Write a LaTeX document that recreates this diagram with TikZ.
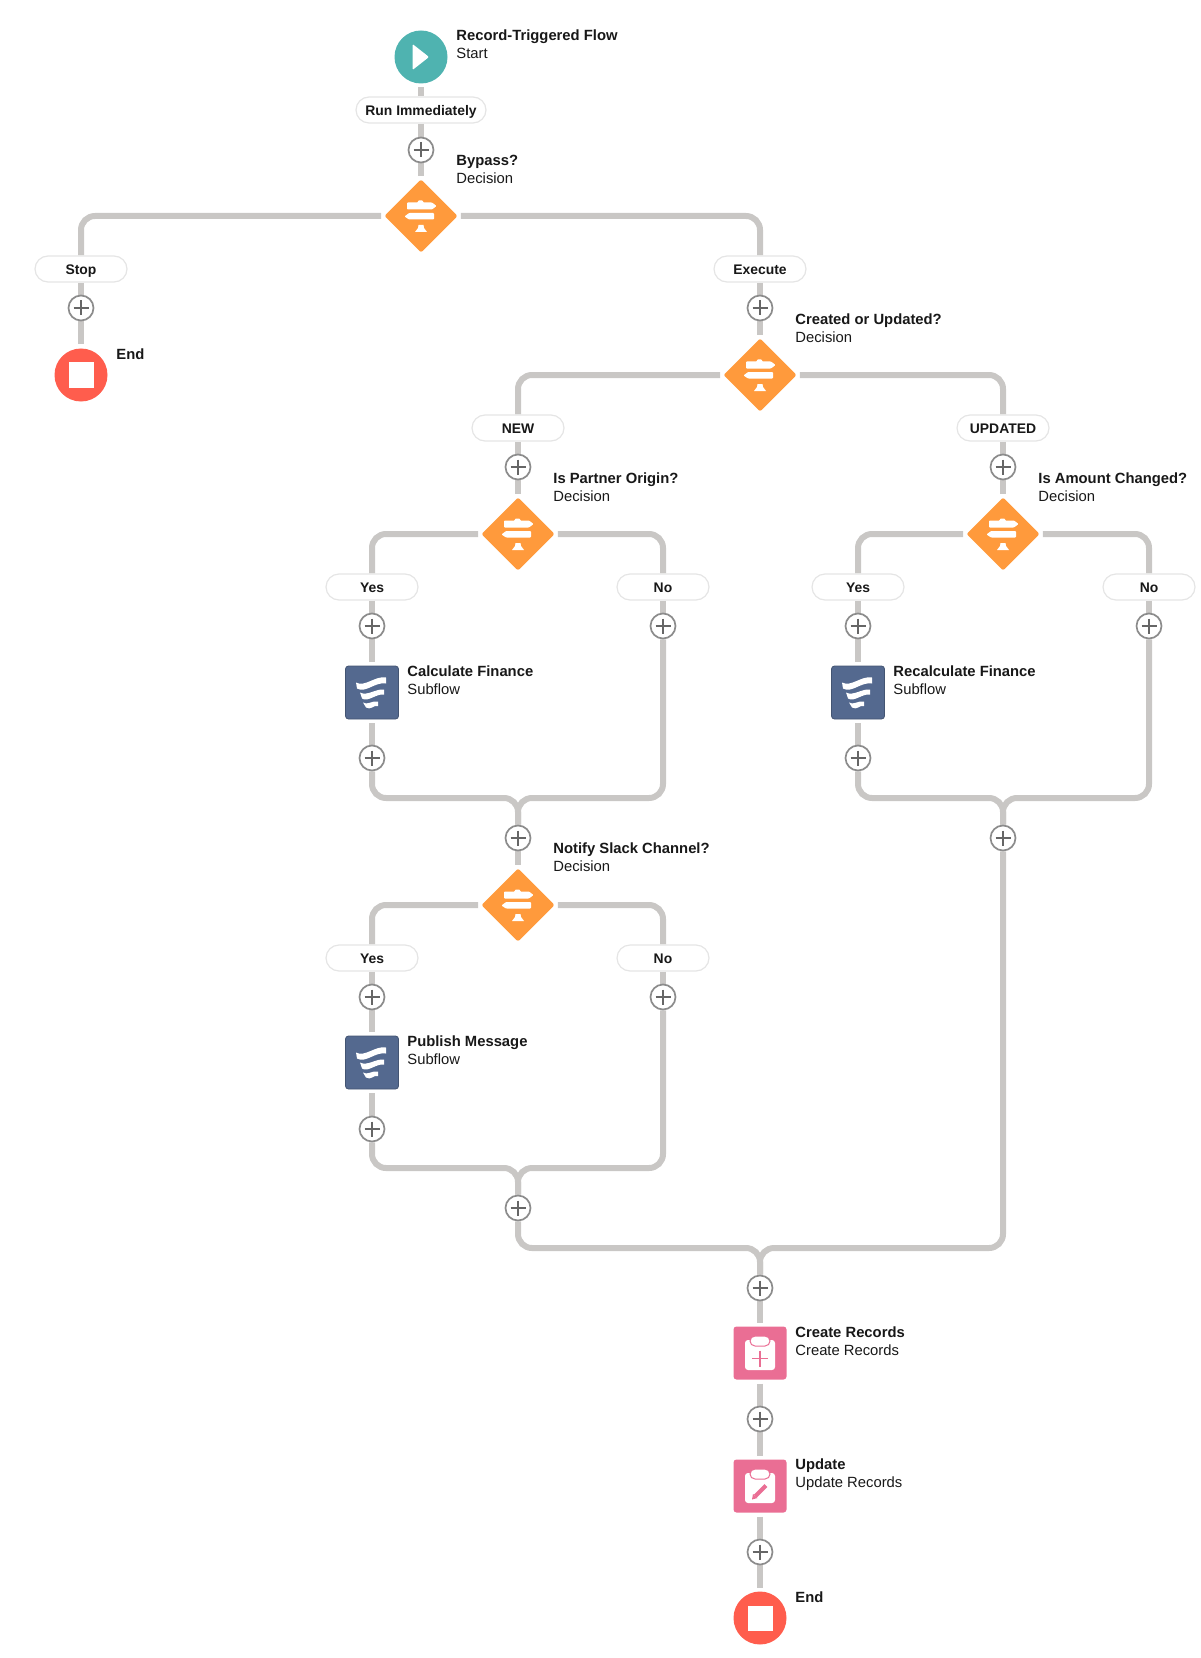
\documentclass[tikz,border=0pt]{standalone}
\usepackage{fontspec}
\setmainfont{Liberation Sans}
\usetikzlibrary{shapes.geometric}

\definecolor{flowgray}{HTML}{C9C7C5}
\definecolor{startteal}{HTML}{4FB3B0}
\definecolor{endred}{HTML}{FF5D4D}
\definecolor{deciorange}{HTML}{FF9A3C}
\definecolor{subblue}{HTML}{54698F}
\definecolor{recpink}{HTML}{EA6E94}
\definecolor{inkdark}{HTML}{181818}

\pgfdeclarelayer{lines}
\pgfsetlayers{lines,main}

\tikzset{
  flowline/.style={line width=3pt, draw=flowgray, rounded corners=7pt},
  pill/.style={draw=black!10, line width=0.6pt, fill=white, rectangle, rounded corners=6.5pt,
    minimum width=46pt, minimum height=13pt, inner sep=0pt, text=inkdark, text height=5.2pt, text depth=0pt,
    font=\fontsize{6.95}{8}\selectfont\bfseries},
  addbtn/.style={circle, draw=black!45, line width=0.85pt, fill=white, minimum size=12.5pt, inner sep=0pt,
    path picture={\draw[black!60, line width=0.6pt]
      (path picture bounding box.center) ++(-7.5,0) -- ++(15,0)
      (path picture bounding box.center) ++(0,-7.5) -- ++(0,15);}},
  roundicon/.style={circle, minimum size=26.5pt, inner sep=0pt, outer sep=2pt},
  decision/.style={diamond, fill=deciorange, minimum width=37.5pt, minimum height=37.5pt, aspect=1,
    inner sep=0pt, outer sep=1.2pt, rounded corners=1pt},
  squareicon/.style={rectangle, minimum size=26.5pt, inner sep=0pt, outer sep=2pt, rounded corners=1.5pt},
  lbl/.style={anchor=north west, inner sep=0pt, align=left, text=inkdark,
    font=\fontsize{7.4}{9}\selectfont},
  signpost/.pic={
    \fill[white, rounded corners=0.4pt] (-14,-13.5) -- (-3,-13.5) -- (-3,-15.5) -- (2,-15.5) -- (2,-13.5) -- (11,-13.5)
      -- (15.5,-10) -- (11,-6.5) -- (-14,-6.5) -- cycle;
    \fill[white, rounded corners=0.4pt] (13,-3) -- (-12,-3) -- (-16.5,0.5) -- (-12,3.5) -- (13,3.5) -- cycle;
    \fill[white] (-2.5,9) -- (2.5,9) -- (3,12) -- (6,16) -- (-6,16) -- (-3,12) -- cycle;
  },
  wavestripes/.pic={
    \fill[white] (-16,-10) .. controls (-7,-5) and (3,-17) .. (14,-15) -- (14,-9)
      .. controls (3,-11) and (-6,1) .. (-15,-4) -- cycle;
    \fill[white] (-12,0) .. controls (-5,4) and (4,-4) .. (12,-3) -- (12,2)
      .. controls (4,1) and (-4,10) .. (-10,6) -- cycle;
    \fill[white] (-9,10) .. controls (-5,13) and (0,8) .. (6,9) -- (6,13.5)
      .. controls (1,12.5) and (-1,18) .. (-6,15) -- cycle;
  },
  clipboard/.pic={
    \fill[white, rounded corners=1.5pt] (-15,-13) rectangle (15,17);
    \filldraw[white, draw=recpink, line width=0.5pt, rounded corners=2.5pt] (-10,-17) rectangle (10,-7);
  }
}

\begin{document}
\begin{tikzpicture}[x=0.5pt, y=-0.5pt]
    \useasboundingbox (0,0) rectangle (1200,1658);

    % Icons first, the connectors go under the buttons
    \node[roundicon, fill=startteal] (start) at (421,57) {};
    \node[decision] (dBypass) at (421,216) {};
    \node[decision] (dCreated) at (760,375) {};
    \node[decision] (dPartner) at (518,534) {};
    \node[decision] (dAmount) at (1003,534) {};
    \node[decision] (dNotify) at (518,905) {};
    \node[roundicon, fill=endred] (endStop) at (81,375) {};
    \node[squareicon, fill=subblue, draw=subblue!80!black, line width=0.4pt] (subCalc) at (372,692.5) {};
    \node[squareicon, fill=subblue, draw=subblue!80!black, line width=0.4pt] (subRecalc) at (858,692.5) {};
    \node[squareicon, fill=subblue, draw=subblue!80!black, line width=0.4pt] (subPublish) at (372,1062.5) {};
    \node[squareicon, fill=recpink] (recCreate) at (760,1353) {};
    \node[squareicon, fill=recpink] (recUpdate) at (760,1486) {};
    \node[roundicon, fill=endred] (endMain) at (760,1618) {};

    % Branch labels
    \node[pill, minimum width=65pt] (pRun) at (421,110) {Run Immediately};
    \node[pill] (pStop) at (81,269) {Stop};
    \node[pill] (pExecute) at (760,269) {Execute};
    \node[pill] (pNew) at (518,428) {NEW};
    \node[pill] (pUpdated) at (1003,428) {UPDATED};
    \node[pill] (pYesA) at (372,587) {Yes};
    \node[pill] (pNoA) at (663,587) {No};
    \node[pill] (pYesB) at (858,587) {Yes};
    \node[pill] (pNoB) at (1149,587) {No};
    \node[pill] (pYesC) at (372,958) {Yes};
    \node[pill] (pNoC) at (663,958) {No};

    % Add buttons
    \node[addbtn] (aBypass) at (421,150) {};
    \node[addbtn] (aStop) at (81,308) {};
    \node[addbtn] (aExecute) at (760,308) {};
    \node[addbtn] (aNew) at (518,467) {};
    \node[addbtn] (aUpdated) at (1003,467) {};
    \node[addbtn] (aYesA) at (372,626) {};
    \node[addbtn] (aNoA) at (663,626) {};
    \node[addbtn] (aYesB) at (858,626) {};
    \node[addbtn] (aNoB) at (1149,626) {};
    \node[addbtn] (aCalc) at (372,758) {};
    \node[addbtn] (aRecalc) at (858,758) {};
    \node[addbtn] (aMergeA) at (518,838) {};
    \node[addbtn] (aMergeB) at (1003,838) {};
    \node[addbtn] (aYesC) at (372,997) {};
    \node[addbtn] (aNoC) at (663,997) {};
    \node[addbtn] (aPublish) at (372,1129) {};
    \node[addbtn] (aMergeC) at (518,1208) {};
    \node[addbtn] (aCreate) at (760,1288) {};
    \node[addbtn] (aUpdate) at (760,1419) {};
    \node[addbtn] (aEnd) at (760,1552) {};

    % Merge points
    \coordinate (mA) at (518,798);
    \coordinate (mB) at (1003,798);
    \coordinate (mC) at (518,1168);
    \coordinate (mD) at (760,1248);

    % Connectors, kept behind the nodes
    \begin{pgfonlayer}{lines}
    \draw[flowline] (start) -- (pRun);
    \draw[flowline] (pRun) -- (aBypass);
    \draw[flowline] (aBypass) -- (dBypass);

    % Bypass?
    \draw[flowline] (dBypass) -| (pStop);
    \draw[flowline] (pStop) -- (aStop);
    \draw[flowline] (aStop) -- (endStop);
    \draw[flowline] (dBypass) -| (pExecute);
    \draw[flowline] (pExecute) -- (aExecute);
    \draw[flowline] (aExecute) -- (dCreated);

    % Created or Updated?
    \draw[flowline] (dCreated) -| (pNew);
    \draw[flowline] (pNew) -- (aNew);
    \draw[flowline] (aNew) -- (dPartner);
    \draw[flowline] (dCreated) -| (pUpdated);
    \draw[flowline] (pUpdated) -- (aUpdated);
    \draw[flowline] (aUpdated) -- (dAmount);

    % Is Partner Origin?
    \draw[flowline] (dPartner) -| (pYesA);
    \draw[flowline] (pYesA) -- (aYesA);
    \draw[flowline] (aYesA) -- (subCalc);
    \draw[flowline] (subCalc) -- (aCalc);
    \draw[flowline] (aCalc) |- (mA) -- (aMergeA);
    \draw[flowline] (dPartner) -| (pNoA);
    \draw[flowline] (pNoA) -- (aNoA);
    \draw[flowline] (aNoA) |- (mA) -- (aMergeA);

    % Is Amount Changed?
    \draw[flowline] (dAmount) -| (pYesB);
    \draw[flowline] (pYesB) -- (aYesB);
    \draw[flowline] (aYesB) -- (subRecalc);
    \draw[flowline] (subRecalc) -- (aRecalc);
    \draw[flowline] (aRecalc) |- (mB) -- (aMergeB);
    \draw[flowline] (dAmount) -| (pNoB);
    \draw[flowline] (pNoB) -- (aNoB);
    \draw[flowline] (aNoB) |- (mB) -- (aMergeB);

    % Notify Slack Channel?
    \draw[flowline] (aMergeA) -- (dNotify);
    \draw[flowline] (dNotify) -| (pYesC);
    \draw[flowline] (pYesC) -- (aYesC);
    \draw[flowline] (aYesC) -- (subPublish);
    \draw[flowline] (subPublish) -- (aPublish);
    \draw[flowline] (aPublish) |- (mC) -- (aMergeC);
    \draw[flowline] (dNotify) -| (pNoC);
    \draw[flowline] (pNoC) -- (aNoC);
    \draw[flowline] (aNoC) |- (mC) -- (aMergeC);

    % Tail of the flow
    \draw[flowline] (aMergeC) |- (mD) -- (aCreate);
    \draw[flowline] (aMergeB) |- (mD) -- (aCreate);
    \draw[flowline] (aCreate) -- (recCreate);
    \draw[flowline] (recCreate) -- (aUpdate);
    \draw[flowline] (aUpdate) -- (recUpdate);
    \draw[flowline] (recUpdate) -- (aEnd);
    \draw[flowline] (aEnd) -- (endMain);
    \end{pgfonlayer}

    % Icon glyphs
    \fill[white, rounded corners=0.6pt] (412.5,44) -- (429,57) -- (412.5,70) -- cycle;
    \fill[white] (68.5,362.5) rectangle (93.5,387.5);
    \fill[white] (747.5,1605.5) rectangle (772.5,1630.5);
    \pic at (dBypass) {signpost};
    \pic at (dCreated) {signpost};
    \pic at (dPartner) {signpost};
    \pic at (dAmount) {signpost};
    \pic at (dNotify) {signpost};
    \pic at (subCalc) {wavestripes};
    \pic at (subRecalc) {wavestripes};
    \pic at (subPublish) {wavestripes};
    \pic at (recCreate) {clipboard};
    \pic at (recUpdate) {clipboard};
    \draw[recpink, line width=0.6pt] (752,1358.5) -- (768,1358.5) (760,1350.5) -- (760,1366.5);
    \draw[recpink, line width=2pt] (755.5,1496) -- (766,1485.5);
    \fill[recpink] (752,1499.5) -- (753,1494) -- (757.5,1498) -- cycle;

    % Texts
    \node[lbl] (tStart) at (456,29) {\textbf{Record-Triggered Flow}\\Start};
    \node[lbl] (tBypass) at (456,155) {\textbf{Bypass?}\\Decision};
    \node[lbl] (tEndStop) at (116,348) {\textbf{End}};
    \node[lbl] (tCreated) at (795,313) {\textbf{Created or Updated?}\\Decision};
    \node[lbl] (tPartner) at (553,472) {\textbf{Is Partner Origin?}\\Decision};
    \node[lbl] (tAmount) at (1038,472) {\textbf{Is Amount Changed?}\\Decision};
    \node[lbl] (tCalc) at (407,665) {\textbf{Calculate Finance}\\Subflow};
    \node[lbl] (tRecalc) at (893,665) {\textbf{Recalculate Finance}\\Subflow};
    \node[lbl] (tNotify) at (553,842) {\textbf{Notify Slack Channel?}\\Decision};
    \node[lbl] (tPublish) at (407,1035) {\textbf{Publish Message}\\Subflow};
    \node[lbl] (tCreate) at (795,1326) {\textbf{Create Records}\\Create Records};
    \node[lbl] (tUpdate) at (795,1458) {\textbf{Update}\\Update Records};
    \node[lbl] (tEndMain) at (795,1591) {\textbf{End}};
\end{tikzpicture}
\end{document}
